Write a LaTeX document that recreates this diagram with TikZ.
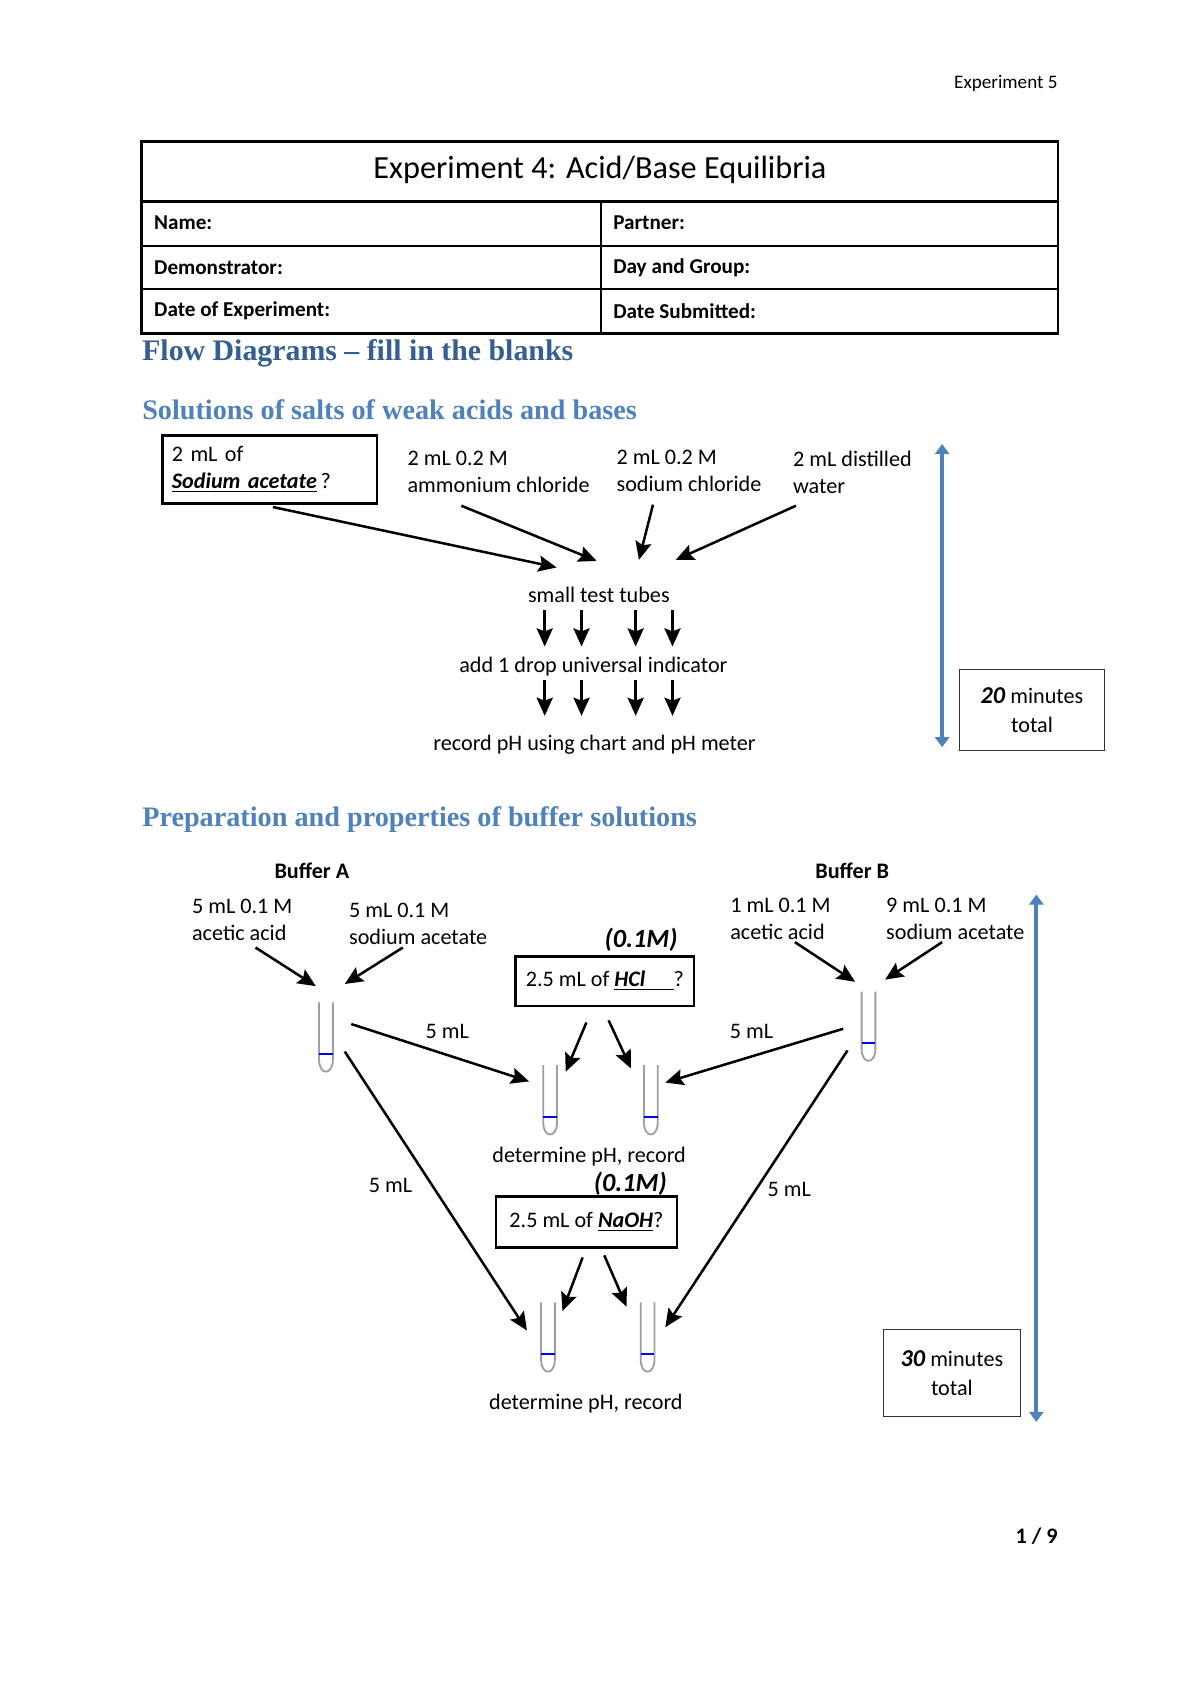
\documentclass[tikz,border=0pt]{standalone}
\usepackage{fontspec}
\setmainfont{Carlito}
\newfontfamily\headfont{Liberation Serif}
\usetikzlibrary{arrows.meta,calc,positioning}
\definecolor{headDark}{HTML}{365F91}
\definecolor{headBlue}{HTML}{4F81BD}
\newcommand{\pxu}{0.53726pt}
\newcommand{\hand}[1]{\textbf{\textit{#1}}}
% one test tube inside a slot node
\newcommand{\drawTube}[1]{%
  \draw[tubeWall] (#1.north west) -- ($(#1.south west)+(0,-12)$)
    .. controls ($(#1.south west)+(0,3)$) and ($(#1.south east)+(0,3)$)
    .. ($(#1.south east)+(0,-12)$) -- (#1.north east);
  \draw[fillLine] ($(#1.south west)+(0,-17)$) -- ($(#1.south east)+(0,-17)$);
}

\begin{document}
\begin{tikzpicture}[
  x=\pxu, y=-\pxu,
  lbl/.style={anchor=west, align=left, inner sep=0pt,
              font=\fontsize{11}{13.4}\selectfont},
  ctr/.style={inner sep=0pt, font=\fontsize{11}{13.4}\selectfont},
  cell/.style={anchor=west, inner sep=0pt,
               font=\bfseries\fontsize{10.5}{12}\selectfont},
  headA/.style={anchor=west, inner sep=0pt, text=headDark,
                font=\headfont\bfseries\fontsize{14.8}{17}\selectfont},
  headB/.style={anchor=west, inner sep=0pt, text=headBlue,
                font=\headfont\bfseries\fontsize{14}{16}\selectfont},
  blankBox/.style={draw, line width=1.3pt, inner sep=2pt,
                   font=\fontsize{11}{13.4}\selectfont},
  timeBox/.style={draw=black!80, line width=0.6pt, align=center,
                  font=\fontsize{11}{14.5}\selectfont},
  conc/.style={inner sep=0pt, font=\fontsize{13}{15}\selectfont},
  arr/.style={-{Stealth[length=9pt,width=8pt,inset=1.5pt]}, line width=1.25pt},
  timeArrow/.style={{Triangle[length=5pt,width=7pt]}-{Triangle[length=5pt,width=7pt]},
                    line width=2pt, headBlue},
  tubeSlot/.style={inner sep=0pt, minimum width=12*\pxu,
                   minimum height=64*\pxu},
  tubeWall/.style={draw=gray!75, line width=0.9pt},
  fillLine/.style={blue, line width=1.2pt},
  vol/.style={font=\fontsize{11}{13.4}\selectfont}
]
  \fill[white] (0,0) rectangle (1108,1568);
  \useasboundingbox (0,0) rectangle (1108,1568);

  % page header
  \node[anchor=east, inner sep=0pt, font=\fontsize{9.5}{11}\selectfont]
    (expNo) at (977,77) {Experiment 5};

  % cover table
  \draw[line width=1.4pt] (131,131) rectangle (977,308);
  \draw[line width=1.2pt] (131,186) -- (977,186);
  \draw[line width=1.2pt] (131,227) -- (977,227);
  \draw[line width=0.7pt] (131,267) -- (977,267);
  \draw[line width=0.7pt] (555,186) -- (555,308);
  \node[font=\fontsize{16}{19}\selectfont] (title) at (554,157)
    {Experiment 4: Acid/Base Equilibria};
  \node[cell] (name) at (142,206) {Name:};
  \node[cell] (partner) at (566,206) {Partner:};
  \node[cell] (demo) at (142,247) {Demonstrator:};
  \node[cell] (group) at (566,247) {Day and Group:};
  \node[cell] (dateExp) at (142,287) {Date of Experiment:};
  \node[cell] (dateSub) at (566,287) {Date Submitted:};

  % headings
  \node[headA] (flowHd) at (131,326) {Flow Diagrams – fill in the blanks};
  \node[headB] (saltHd) at (131,378) {Solutions of salts of weak acids and bases};

  % salts: sources
  \node[blankBox, minimum width=198*\pxu, minimum height=63*\pxu,
        text width=97pt, align=left] (sodAcBox) at (249,433.5)
    {2 mL of\\\underline{\hand{Sodium acetate}}\,?};
  \node[lbl] (ammCl) at (376,435.5) {2 mL 0.2 M\\ammonium chloride};
  \node[lbl] (naCl) at (569,434.5) {2 mL 0.2 M\\sodium chloride};
  \node[lbl] (water) at (732,436.5) {2 mL distilled\\water};

  % salts: steps
  \node[ctr] (tubes) at (553,549) {small test tubes};
  \node[ctr] (indic) at (548,616) {add 1 drop universal indicator};
  \node[ctr] (record) at (549,688) {record pH using chart and pH meter};

  \draw[arr] ($(sodAcBox.south)+(3,2)$) -- ($(tubes)+(-39,-25)$);
  \draw[arr] ($(ammCl.west)+(50,31.5)$) -- ($(tubes)+(-2,-31)$);
  \draw[arr] ($(naCl.west)+(34,31.5)$) -- ($(tubes)+(37,-32)$);
  \draw[arr] ($(water.west)+(3,30.5)$) -- ($(tubes)+(71,-32)$);
  \foreach \dx in {-50,-16,34,68} {
    \draw[arr] ($(tubes)+(\dx,14)$) -- ($(indic)+(\dx+5,-19)$);
    \draw[arr] ($(indic)+(\dx+5,12)$) -- ($(record)+(\dx+4,-27)$);
  }

  % time for salts
  \coordinate (timeTopA) at (870,410);
  \coordinate (timeBotA) at (870,690);
  \draw[timeArrow] (timeTopA) -- (timeBotA);
  \node[timeBox, minimum width=134*\pxu, minimum height=75*\pxu]
    (timeA) at (953,655.5) {{\large\hand{20}} minutes\\total};

  % buffers
  \node[headB] (bufHd) at (131,757) {Preparation and properties of buffer solutions};
  \node[ctr, font=\bfseries\fontsize{11}{13.4}\selectfont] (bufA) at (288,804) {Buffer A};
  \node[ctr, font=\bfseries\fontsize{11}{13.4}\selectfont] (bufB) at (787,804) {Buffer B};
  \node[lbl] (aceticA) at (177,849.5) {5 mL 0.1 M\\acetic acid};
  \node[lbl] (sodiumA) at (322,853) {5 mL 0.1 M\\sodium acetate};
  \node[lbl] (aceticB) at (674,848.5) {1 mL 0.1 M\\acetic acid};
  \node[lbl] (sodiumB) at (818,848.5) {9 mL 0.1 M\\sodium acetate};

  % tubes
  \node[tubeSlot] (tubeA) at (301,958) {};
  \node[tubeSlot] (tubeB) at (802,948) {};
  \node[tubeSlot] (acidA) at (508,1016) {};
  \node[tubeSlot] (acidB) at (601,1016) {};
  \node[tubeSlot] (baseA) at (506,1235) {};
  \node[tubeSlot] (baseB) at (598,1235) {};
  \foreach \t in {tubeA,tubeB,acidA,acidB,baseA,baseB} {\drawTube{\t}}

  % additions
  \node[blankBox, minimum width=165*\pxu, minimum height=46*\pxu]
    (hclBox) at (558.5,906) {2.5 mL of \underline{\hand{HCl}\hspace{14pt}}?};
  \node[conc] (hclConc) at (592,868) {\hand{(0.1M)}};
  \node[ctr] (detAcid) at (544,1068) {determine pH, record};
  \node[blankBox, minimum width=167*\pxu, minimum height=47*\pxu]
    (naohBox) at (541.5,1128.5) {2.5 mL of \underline{\hand{NaOH}}?};
  \node[conc] (naohConc) at (582,1093) {\hand{(0.1M)}};
  \node[ctr] (detBase) at (541,1296) {determine pH, record};

  \draw[arr] ($(aceticA.west)+(59,25.5)$) -- ($(tubeA.north west)+(-3,-15)$);
  \draw[arr] ($(sodiumA.west)+(50,22)$) -- ($(tubeA.north east)+(11,-17)$);
  \draw[arr] ($(aceticB.west)+(60,21.5)$) -- ($(tubeB.north west)+(-6,-9)$);
  \draw[arr] ($(sodiumB.west)+(52,21.5)$) -- ($(tubeB.north east)+(9,-11)$);
  \draw[arr] ($(tubeA.north east)+(17,20)$) --
    node[vol, pos=0.54, above=4pt] {5 mL} ($(acidA.north west)+(-13,15)$);
  \draw[arr] ($(tubeA.east)+(11,13)$) --
    node[vol, pos=0.48, left=6pt] {5 mL} ($(baseA.north west)+(-13,26)$);
  \draw[arr] ($(tubeB.west)+(-17,2)$) --
    node[vol, pos=0.515, above=5pt] {5 mL} ($(acidB.north east)+(7,16)$);
  \draw[arr] ($(tubeB.west)+(-13,22)$) --
    node[vol, pos=0.504, right=2pt] {5 mL} ($(baseB.north east)+(10,23)$);
  \draw[arr] ($(hclBox.south)+(-17,14)$) -- ($(acidA.north east)+(8,6)$);
  \draw[arr] ($(hclBox.south)+(3.5,12)$) -- ($(acidB.north west)+(-12,3)$);
  \draw[arr] ($(naohBox.south)+(-3.5,8)$) -- ($(baseA.north east)+(7,8)$);
  \draw[arr] ($(naohBox.south)+(16.5,6)$) -- ($(baseB.north west)+(-13,4)$);

  % time for buffers
  \coordinate (timeTopB) at (957,826);
  \coordinate (timeBotB) at (957,1313);
  \draw[timeArrow] (timeTopB) -- (timeBotB);
  \node[timeBox, minimum width=126*\pxu, minimum height=80*\pxu]
    (timeB) at (879,1268) {{\large\hand{30}} minutes\\total};

  % page number
  \node[anchor=east, inner sep=0pt, font=\bfseries\fontsize{11}{13}\selectfont]
    (pageNo) at (977,1419) {1 / 9};
\end{tikzpicture}
\end{document}
